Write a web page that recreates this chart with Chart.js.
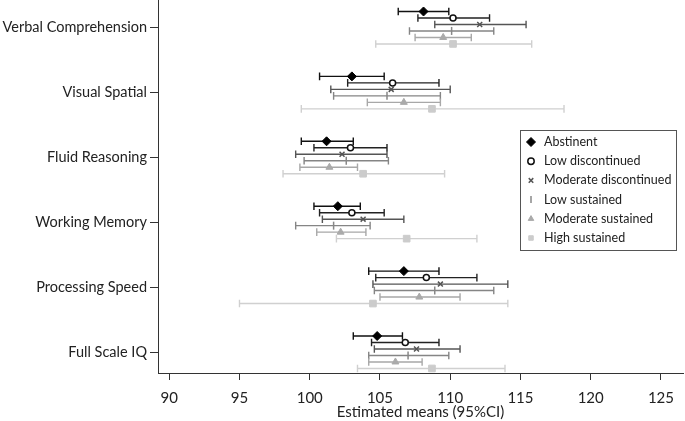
<!DOCTYPE html>
<html>
<head>
<meta charset="utf-8">
<script src="https://cdn.jsdelivr.net/npm/chart.js@4.4.0/dist/chart.umd.min.js"></script>
<style>
  html, body { margin: 0; padding: 0; background: #fff; }
  #wrap { width: 685px; height: 421px; }
</style>
</head>
<body>
<div id="wrap"><canvas id="forest"></canvas></div>
<script>
const categories = ['Verbal Comprehension', 'Visual Spatial', 'Fluid Reasoning', 'Working Memory', 'Processing Speed', 'Full Scale IQ'];
const groups = ['Abstinent', 'Low discontinued', 'Moderate discontinued', 'Low sustained', 'Moderate sustained', 'High sustained'];
const xTicks = [90, 95, 100, 105, 110, 115, 120, 125];

// point estimate + 95% CI for each group, one value per category
const abstinentMean = [108.1, 103.0, 101.2, 102.0, 106.7, 104.8];
const abstinentLo   = [106.3, 100.7,  99.4, 100.3, 104.2, 103.1];
const abstinentHi   = [109.9, 105.3, 103.1, 103.6, 109.2, 106.6];

const lowDiscMean = [110.2, 105.9, 102.9, 103.0, 108.3, 106.8];
const lowDiscLo   = [107.7, 102.7, 100.3, 100.7, 104.7, 104.4];
const lowDiscHi   = [112.8, 109.2, 105.5, 105.3, 111.9, 109.2];

const modDiscMean = [112.1, 105.8, 102.3, 103.8, 109.3, 107.6];
const modDiscLo   = [108.9, 101.5,  99.0, 100.9, 104.5, 104.6];
const modDiscHi   = [115.4, 110.0, 105.5, 106.7, 114.1, 110.7];

const lowSustMean = [110.1, 105.5, 102.6, 101.7, 108.9, 107.0];
const lowSustLo   = [107.1, 101.7,  99.6,  99.0, 104.6, 104.2];
const lowSustHi   = [113.1, 109.3, 105.6, 104.3, 113.1, 109.9];

const modSustMean = [109.5, 106.7, 101.4, 102.2, 107.8, 106.1];
const modSustLo   = [107.5, 104.1,  99.3, 100.5, 105.0, 104.2];
const modSustHi   = [111.5, 109.3, 103.4, 104.0, 110.7, 108.0];

const highSustMean = [110.2, 108.7, 103.8, 106.9, 104.5, 108.7];
const highSustLo   = [104.7,  99.4,  98.1, 101.9,  95.0, 103.4];
const highSustHi   = [115.8, 118.1, 109.6, 111.9, 114.1, 113.9];

const means = [abstinentMean, lowDiscMean, modDiscMean, lowSustMean, modSustMean, highSustMean];
const lows  = [abstinentLo, lowDiscLo, modDiscLo, lowSustLo, modSustLo, highSustLo];
const highs = [abstinentHi, lowDiscHi, modDiscHi, lowSustHi, modSustHi, highSustHi];

// marker look per group
const styles = [
  { pointStyle: 'rectRot',  radius: 4.5, bg: '#000', border: '#000', line: '#111', bw: 1 },
  { pointStyle: 'circle',   radius: 3,   bg: '#fff', border: '#111', line: '#222', bw: 1.5 },
  { pointStyle: 'crossRot', radius: 3.5, bg: '#555', border: '#555', line: '#555', bw: 1.5 },
  { pointStyle: 'line',     radius: 4,   bg: '#888', border: '#888', line: '#858585', bw: 1.5, rotation: 90 },
  { pointStyle: 'triangle', radius: 4,   bg: '#aaa', border: '#aaa', line: '#a8a8a8', bw: 1 },
  { pointStyle: 'rect',     radius: 4.7, bg: '#ccc', border: '#ccc', line: '#d0d0d0', bw: 1 }
];

const FONT = 'Lato';
const step = 0.1; // vertical spacing of groups inside a category

const datasets = groups.map((g, k) => ({
  label: g,
  data: categories.map((c, i) => ({
    x: means[k][i],
    y: i + (k - 2.5) * step,
    lo: lows[k][i],
    hi: highs[k][i]
  })),
  pointStyle: styles[k].pointStyle,
  pointRadius: styles[k].radius,
  pointHoverRadius: styles[k].radius,
  pointRotation: styles[k].rotation || 0,
  pointBackgroundColor: styles[k].bg,
  pointBorderColor: styles[k].border,
  pointBorderWidth: styles[k].bw,
  showLine: false
}));

// whiskers with end caps
const errorBars = {
  id: 'errorBars',
  beforeDatasetsDraw(chart) {
    const ctx = chart.ctx;
    const xs = chart.scales.x;
    ctx.save();
    chart.data.datasets.forEach((ds, k) => {
      const meta = chart.getDatasetMeta(k);
      ctx.strokeStyle = styles[k].line;
      ctx.lineWidth = 1.4;
      ds.data.forEach((d, j) => {
        const y = meta.data[j].y;
        const x1 = xs.getPixelForValue(d.lo);
        const x2 = xs.getPixelForValue(d.hi);
        ctx.beginPath();
        ctx.moveTo(x1, y); ctx.lineTo(x2, y);
        ctx.moveTo(x1, y - 3.8); ctx.lineTo(x1, y + 3.8);
        ctx.moveTo(x2, y - 3.8); ctx.lineTo(x2, y + 3.8);
        ctx.stroke();
      });
    });
    ctx.restore();
  }
};

// legend box inside the plot
const boxLegend = {
  id: 'boxLegend',
  afterDraw(chart) {
    const ctx = chart.ctx;
    const bx = 520.5, by = 130.5, bw = 156, bh = 120;
    ctx.save();
    ctx.fillStyle = '#fff';
    ctx.fillRect(bx, by, bw, bh);
    ctx.strokeStyle = '#555';
    ctx.lineWidth = 1;
    ctx.strokeRect(bx, by, bw, bh);
    ctx.font = '12.5px ' + FONT;
    ctx.textBaseline = 'middle';
    groups.forEach((g, k) => {
      const y = 142 + k * 19.2;
      const s = styles[k];
      ctx.fillStyle = s.bg;
      ctx.strokeStyle = s.border;
      ctx.lineWidth = s.bw;
      Chart.helpers.drawPoint(ctx, {
        pointStyle: s.pointStyle,
        radius: k === 0 ? 4.5 : (k === 3 ? 3.5 : 3.2),
        rotation: s.rotation || 0,
        borderWidth: s.bw
      }, 531, y);
      ctx.fillStyle = '#222';
      ctx.fillText(g, 544, y);
    });
    ctx.restore();
  }
};

new Chart(document.getElementById('forest'), {
  type: 'scatter',
  data: { datasets: datasets },
  options: {
    responsive: true,
    maintainAspectRatio: false,
    animation: false,
    layout: { autoPadding: false, padding: { top: 0, right: 2, bottom: 0, left: 0 } },
    plugins: {
      legend: { display: false },
      tooltip: { enabled: false }
    },
    scales: {
      x: {
        type: 'linear',
        min: 89.2,
        max: 126.57,
        afterBuildTicks: (scale) => { scale.ticks = xTicks.map(v => ({ value: v })); },
        afterFit: (scale) => { scale.height = 48; scale.paddingLeft = 0; scale.paddingRight = 0; },
        grid: { drawOnChartArea: false, tickLength: 7, color: '#333', lineWidth: 1 },
        border: { color: '#333', width: 1 },
        ticks: { color: '#222', font: { family: FONT, size: 15 }, padding: 9, maxRotation: 0 },
        title: {
          display: true,
          text: 'Estimated means (95%CI)',
          color: '#222',
          font: { family: FONT, size: 15 },
          padding: { top: 0, bottom: 0 }
        }
      },
      y: {
        type: 'linear',
        reverse: true,
        min: -0.427,
        max: 5.32,
        afterBuildTicks: (scale) => { scale.ticks = categories.map((c, i) => ({ value: i })); },
        afterFit: (scale) => { scale.width = 158; scale.paddingTop = 0; scale.paddingBottom = 0; },
        grid: { drawOnChartArea: false, tickLength: 8, color: '#333', lineWidth: 1 },
        border: { color: '#333', width: 1 },
        ticks: {
          color: '#222',
          font: { family: FONT, size: 14.5 },
          padding: 3,
          callback: (v) => categories[v]
        }
      }
    }
  },
  plugins: [errorBars, boxLegend]
});
</script>
</body>
</html>
